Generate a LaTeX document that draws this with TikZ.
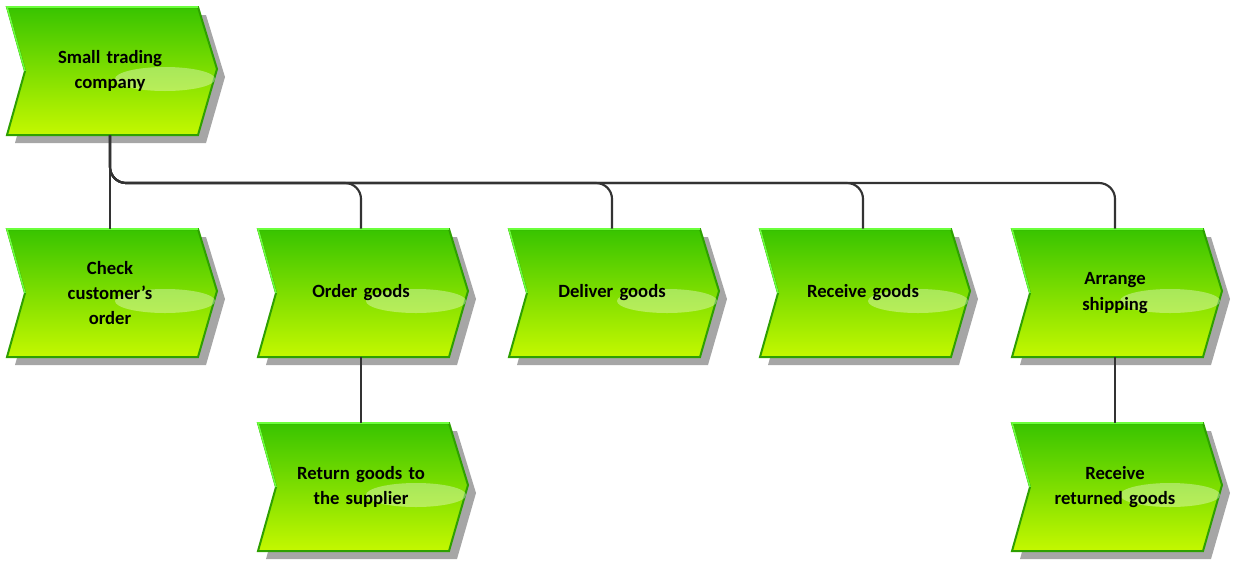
\documentclass[tikz,border=0pt]{standalone}
\usepackage{fontspec}
\setmainfont{Carlito}
\usetikzlibrary{positioning}
\definecolor{funtop}{HTML}{38C400}
\definecolor{funbot}{HTML}{C4F800}
\definecolor{funline}{HTML}{2EA000}
\definecolor{funedge}{HTML}{6CFF3C}
\tikzset{
	fun/.style={
		inner sep=0pt, minimum width=157pt, minimum height=96pt,
		align=center, text width=120pt,
		font=\bfseries\fontsize{14}{19}\selectfont
	},
	link/.style={line width=1.6pt, draw=black!80, rounded corners=12pt}
}
% function shape: name, position, text
\newcommand\epcfun[3]{%
	\begin{scope}[shift={(#2)}]
		\fill[black!35] (-95,-56) -- (96,-56) -- (115,6) -- (96,72) -- (-95,72) -- (-77,8) -- cycle;
		\shade[top color=funtop, bottom color=funbot, draw=funline, line width=1.5pt]
			(-103,-64) -- (88,-64) -- (107,-2) -- (88,64) -- (-103,64) -- (-85,0) -- cycle;
		\draw[funedge, line width=1.2pt] (-85,0) -- (-103,-64) -- (88,-64);
		\fill[white, opacity=0.35] (55,8) ellipse (50 and 12);
	\end{scope}
	\node[fun, name=#1] at (#2) {#3};
}
\begin{document}
\begin{tikzpicture}[x=0.75pt, y=-0.75pt]
\useasboundingbox (0,0) rectangle (1237,572);

\epcfun{company}{110,71}{Small trading\\company}
\epcfun{check}{110,293}{Check\\customer's\\order}
\epcfun{order}{361,293}{Order goods}
\epcfun{deliver}{612,293}{Deliver goods}
\epcfun{receive}{863,293}{Receive goods}
\epcfun{shipping}{1115,293}{Arrange\\shipping}
\epcfun{return}{361,487}{Return goods to\\the supplier}
\epcfun{returned}{1115,487}{Receive\\returned goods}

\coordinate (bus) at (0,183);
\draw[link] (company.south) -- (check.north);
\foreach \n in {order,deliver,receive,shipping}
	\draw[link] (company.south) |- (bus -| \n.north) -- (\n.north);
\draw[link] (order.south) -- (return.north);
\draw[link] (shipping.south) -- (returned.north);

\end{tikzpicture}
\end{document}
